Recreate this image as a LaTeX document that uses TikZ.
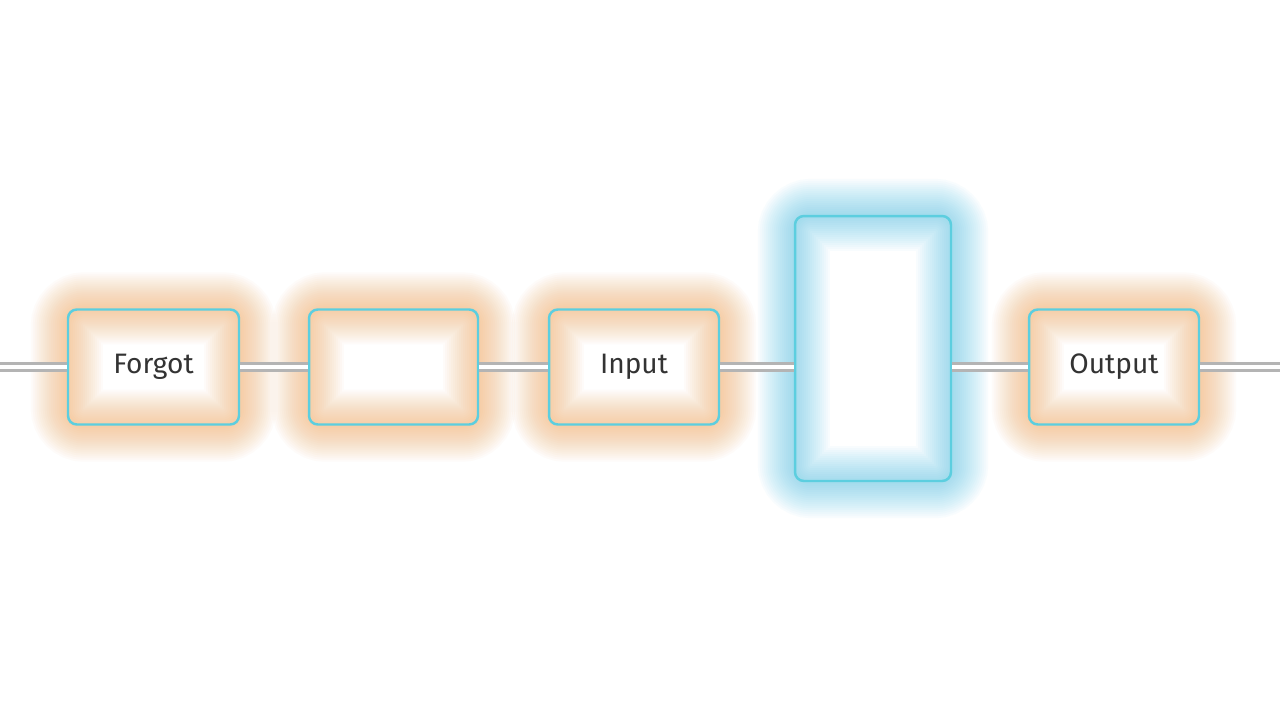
\documentclass[tikz,border=0pt]{standalone}
\usepackage{fontspec}
\setmainfont{Fira Sans}
\usetikzlibrary{backgrounds}

\definecolor{boxline}{HTML}{5CCEDF}
\definecolor{glowo}{HTML}{F6A456}
\definecolor{glowb}{HTML}{4FC3EC}
\definecolor{wiregray}{HTML}{B4B4B4}
\definecolor{textgray}{HTML}{333333}

\begin{document}
\begin{tikzpicture}[x=0.02cm,y=-0.02cm]

\tikzset{gate/.style = {shape=rectangle,draw=boxline,line width=1.4pt,rounded corners=5pt,
  minimum height=2.3cm,text=textgray,font=\fontsize{16}{19}\selectfont}}
\tikzset{wire/.style = {draw=wiregray,line width=1.3pt,double=white,double distance=2.6pt}}

\useasboundingbox (0,0) rectangle (1280,720);

% gates
\node[gate,minimum width=3.42cm] (forgot) at (153.5,367) {Forgot};
\node[gate,minimum width=3.38cm] (mix) at (393.5,367) {};
\node[gate,minimum width=3.40cm] (input) at (634,367) {Input};
\node[gate,minimum width=3.12cm,minimum height=5.3cm] (cell) at (873,348.5) {};
\node[gate,minimum width=3.40cm] (output) at (1114,367) {Output};

% wire ends
\coordinate (left) at (0,367);
\coordinate (right) at (1280,367);

% glow
\begin{scope}[on background layer]
\fill[white] (0,0) rectangle (1280,720);
\foreach \n/\c in {forgot/glowo,mix/glowo,input/glowo,cell/glowb,output/glowo}
  \foreach \w in {4,8,...,72}
    \draw[\c,line width=\w*0.2mm,opacity=0.035,rounded corners=10pt]
      (\n.south west) rectangle (\n.north east);
\end{scope}

% wires
\draw[wire] (left) to (forgot.west);
\draw[wire] (forgot.east) to (mix.west);
\draw[wire] (mix.east) to (input.west);
\draw[wire] (input.east) to (input.east -| cell.west);
\draw[wire] (cell.east |- output.west) to (output.west);
\draw[wire] (output.east) to (right);

\end{tikzpicture}
\end{document}
